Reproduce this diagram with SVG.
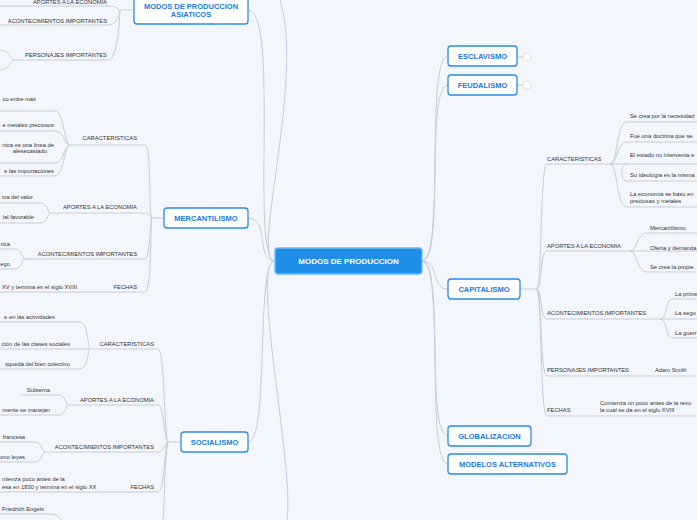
<svg xmlns="http://www.w3.org/2000/svg" width="697" height="520" viewBox="0 0 697 520">
<style>
.bg{fill:#f3f6fd}
.n rect{fill:#fff;stroke:#2b8be6;stroke-width:1.3}
.n text{font-family:"Liberation Sans",Arial,sans-serif;font-weight:bold;font-size:7.5px;fill:#1a7be0;text-anchor:middle}
.c{fill:none;stroke:#c8ccd4;stroke-width:1}
.t{font-family:"Liberation Sans",Arial,sans-serif;font-size:5.8px;fill:#333}
.e{text-anchor:end}
</style>
<rect class="bg" width="697" height="520"/>
<g id="connectors">
<path class="c" d="M275 261 C250 261 305 80 280 0"/>
<path class="c" d="M275 261 C250 261 295 470 287 520"/>
<path class="c" d="M275 261 C250 261 280 10 248 10"/>
<path class="c" d="M275 261 C255 261 270 218 248 218"/>
<path class="c" d="M275 261 C255 261 270 442 248 442"/>
<path class="c" d="M422 261 C445 261 425 56 448 56"/>
<path class="c" d="M422 261 C445 261 425 85 448 85"/>
<path class="c" d="M422 261 C440 261 430 289 448 289"/>
<path class="c" d="M422 261 C445 261 425 436 448 436"/>
<path class="c" d="M422 261 C445 261 425 464 448 464"/>
<path class="c" d="M517 57 H523"/><path class="c" d="M517 85 H523"/>
<path class="c" d="M134 10 H120 M0 6 H108 C118 6 118 10 120 10 M0 25 H108 C118 25 120 12 120 10 M25 60 H108 C118 60 120 15 120 10"/>
<path class="c" d="M25 60 H15 C10 60 10 50 0 50 M15 60 C10 60 10 70 0 70"/>
<path class="c" d="M164 218 H152"/>
<path class="c" d="M70 145 H145 C152 145 148 215 152 218 M50 213 H145 C150 213 150 218 152 218 M25 259 H145 C150 259 150 220 152 218 M0 292 H145 C152 292 150 222 152 218"/>
<path class="c" d="M0 111 H55 C64 111 64 145 70 145 M0 131 H55 C64 131 64 145 70 145 M0 163 H55 C64 163 64 145 70 145 M0 176 H55 C64 176 64 145 70 145"/>
<path class="c" d="M0 203 H40 C48 203 48 213 50 213 M0 223 H40 C48 223 48 213 50 213"/>
<path class="c" d="M0 249 H15 C22 249 22 259 25 259 M0 269 H15 C22 269 22 259 25 259"/>
<path class="c" d="M181 442 H168"/>
<path class="c" d="M90 349 H158 C165 349 164 438 168 442 M68 405 H158 C164 405 164 440 168 442 M45 452 H158 C164 452 164 444 168 442 M0 492 H158 C165 492 164 446 168 442 M0 514 H50 C60 514 60 520 62 520 M168 442 C164 460 165 500 163 520"/>
<path class="c" d="M0 322 H80 C88 322 88 349 90 349 M0 349 H90 M0 369 H80 C88 369 88 349 90 349"/>
<path class="c" d="M20 395 H58 C66 395 66 405 68 405 M0 415 H58 C66 415 66 405 68 405"/>
<path class="c" d="M0 442 H35 C42 442 42 452 45 452 M0 462 H35 C42 462 42 452 45 452"/>
<path class="c" d="M520 289 H537"/>
<path class="c" d="M537 289 C542 286 540 164 547 164 H610 M537 289 C542 287 540 251 547 251 H630 M537 289 C542 292 540 319 547 319 H660 M537 289 C542 295 540 376 547 376 H697 M537 289 C542 298 540 416 547 416 H697"/>
<path class="c" d="M610 164 C618 164 616 122 627 122 H697 M610 164 C618 164 616 142 627 142 H697 M610 164 H697 M627 164 C620 164 620 181 627 181 H697 M610 164 C618 164 616 207 627 207 H697"/>
<path class="c" d="M630 251 C638 251 636 233 647 233 H697 M630 251 H697 M630 251 C638 251 636 272 647 272 H697"/>
<path class="c" d="M660 319 C668 319 665 299 672 299 H697 M660 319 H697 M660 319 C668 319 665 338 672 338 H697"/>
</g>
<g id="n-central" class="n"><rect x="275" y="248" width="147" height="26" rx="3" style="fill:#1f8ee6;stroke:#6fb8f2"/><text x="348.5" y="264" style="fill:#fff;font-size:8px">MODOS DE PRODUCCION</text></g>
<g id="n-asiaticos" class="n"><rect x="134" y="-5" width="114" height="29" rx="3"/><text x="191" y="9">MODOS DE PRODUCCION</text><text x="191" y="17">ASIATICOS</text></g>
<g id="n-mercantilismo" class="n"><rect x="164" y="208" width="84" height="20" rx="3"/><text x="206" y="221">MERCANTILISMO</text></g>
<g id="n-socialismo" class="n"><rect x="181" y="432" width="67" height="20" rx="3"/><text x="214.5" y="445">SOCIALISMO</text></g>
<g id="n-esclavismo" class="n"><rect x="448" y="46" width="69" height="20" rx="3"/><text x="482.5" y="59">ESCLAVISMO</text></g>
<circle cx="527" cy="57" r="4" fill="#fff" stroke="#dde1e8"/>
<g id="n-feudalismo" class="n"><rect x="448" y="75" width="69" height="20" rx="3"/><text x="482.5" y="88">FEUDALISMO</text></g>
<circle cx="527" cy="85" r="4" fill="#fff" stroke="#dde1e8"/>
<g id="n-capitalismo" class="n"><rect x="448" y="279" width="72" height="20" rx="3"/><text x="484" y="292">CAPITALISMO</text></g>
<g id="n-globalizacion" class="n"><rect x="448" y="426" width="83" height="20" rx="3"/><text x="489.5" y="439">GLOBALIZACION</text></g>
<g id="n-alternativos" class="n"><rect x="448" y="454" width="119" height="20" rx="3"/><text x="507.5" y="467">MODELOS ALTERNATIVOS</text></g>
<g id="labels">
<text class="t e" x="107" y="4">APORTES A LA ECONOMIA</text>
<text class="t e" x="107" y="23">ACONTECIMIENTOS IMPORTANTES</text>
<text class="t e" x="107" y="57">PERSONAJES IMPORTANTES</text>
<text class="t e" x="36" y="101">co entre mas</text>
<text class="t e" x="54" y="127">e metales preciosos</text>
<text class="t e" x="54" y="147">nica es una linea de</text>
<text class="t e" x="47" y="153">alesecastado</text>
<text class="t e" x="54" y="173">e las importaciones</text>
<text class="t e" x="137" y="140">CARACTERISTICAS</text>
<text class="t e" x="33" y="199">iva del valor</text>
<text class="t e" x="34" y="219">ial favorable</text>
<text class="t e" x="137" y="209">APORTES A LA ECONOMIA</text>
<text class="t e" x="10" y="246">rica</text>
<text class="t e" x="10" y="266">ego</text>
<text class="t e" x="137" y="256">ACONTECIMIENTOS IMPORTANTES</text>
<text class="t" x="2" y="289">XV y termina en el siglo XVIII</text>
<text class="t e" x="137" y="289">FECHAS</text>
<text class="t e" x="55" y="319">e en las actividades</text>
<text class="t e" x="70" y="346">ción de las clases sociales</text>
<text class="t e" x="70" y="366">squeda del bien colectivo</text>
<text class="t e" x="154" y="346">CARACTERISTICAS</text>
<text class="t e" x="50" y="392">Subtema</text>
<text class="t e" x="50" y="412">mente se manejan</text>
<text class="t e" x="154" y="402">APORTES A LA ECONOMIA</text>
<text class="t e" x="25" y="439"> francesa</text>
<text class="t e" x="25" y="459">omo leyes</text>
<text class="t e" x="154" y="449">ACONTECIMIENTOS IMPORTANTES</text>
<text class="t" x="2" y="481">mienza poco antes de la</text>
<text class="t" x="2" y="489">esa en 1830 y termina en el siglo XX</text>
<text class="t e" x="154" y="489">FECHAS</text>
<text class="t" x="2" y="511">Friedrich Engels</text>
<text class="t" x="547" y="161">CARACTERISTICAS</text>
<text class="t" x="630" y="118">Se crea por la necesidad</text>
<text class="t" x="630" y="138">Fue una doctrina que se</text>
<text class="t" x="630" y="157">El estado no intervenía e</text>
<text class="t" x="630" y="177">Su ideología es la misma</text>
<text class="t" x="630" y="196">La economía se baso en</text>
<text class="t" x="630" y="203">preciosas y metales</text>
<text class="t" x="547" y="248">APORTES A LA ECONOMIA</text>
<text class="t" x="650" y="230">Mercantilismo</text>
<text class="t" x="650" y="250">Oferta y demanda</text>
<text class="t" x="650" y="269">Se crea la propie</text>
<text class="t" x="547" y="315">ACONTECIMIENTOS IMPORTANTES</text>
<text class="t" x="675" y="296">La prime</text>
<text class="t" x="675" y="315">La segu</text>
<text class="t" x="675" y="335">La guerr</text>
<text class="t" x="547" y="372">PERSONAJES IMPORTANTES</text>
<text class="t" x="655" y="372">Adam Smith</text>
<text class="t" x="547" y="412">FECHAS</text>
<text class="t" x="600" y="405">Comienza un poco antes de la revo</text>
<text class="t" x="600" y="412">la cual se da en el siglo XVIII</text>
</g>
</svg>
